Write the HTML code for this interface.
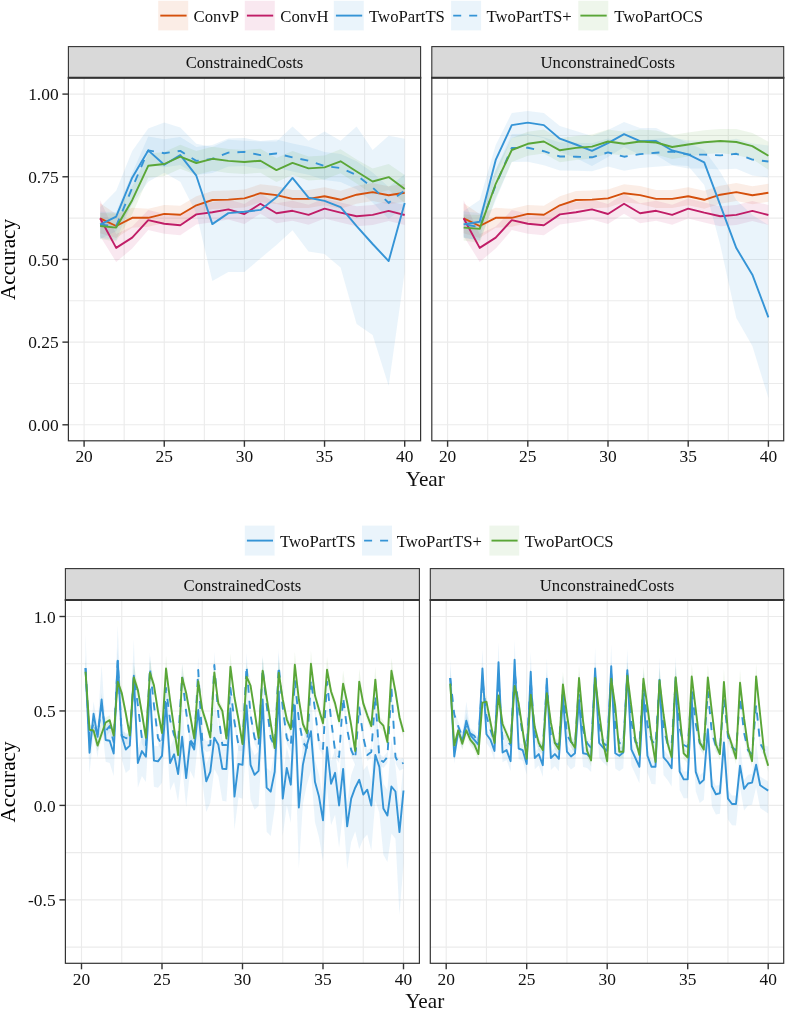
<!DOCTYPE html>
<html><head><meta charset="utf-8"><title>Accuracy by Year</title>
<style>html,body{margin:0;padding:0;background:#fff;} svg{display:block;font-family:'Liberation Serif','DejaVu Serif',serif}</style></head>
<body><svg width="785" height="1009" viewBox="0 0 785 1009">
<rect width="785" height="1009" fill="#FFFFFF"/>
<rect x="158.2" y="0.8" width="30" height="29.6" fill="#D5500C" fill-opacity="0.1"/>
<line x1="160.3" x2="186.6" y1="15.6" y2="15.6" stroke="#D5500C" stroke-width="1.9"/>
<text x="193.6" y="21.8" font-size="16.7" text-anchor="start" fill="#111" >ConvP</text>
<rect x="244.8" y="0.8" width="30" height="29.6" fill="#C01D67" fill-opacity="0.1"/>
<line x1="246.9" x2="273.2" y1="15.6" y2="15.6" stroke="#C01D67" stroke-width="1.9"/>
<text x="280.3" y="21.8" font-size="16.7" text-anchor="start" fill="#111" >ConvH</text>
<rect x="333.8" y="0.8" width="30" height="29.6" fill="#3594D6" fill-opacity="0.1"/>
<line x1="335.9" x2="362.2" y1="15.6" y2="15.6" stroke="#3594D6" stroke-width="1.9"/>
<text x="369.1" y="21.8" font-size="16.7" text-anchor="start" fill="#111" >TwoPartTS</text>
<rect x="451.1" y="0.8" width="30" height="29.6" fill="#3594D6" fill-opacity="0.1"/>
<line x1="453.2" x2="479.0" y1="15.6" y2="15.6" stroke="#3594D6" stroke-width="1.9" stroke-dasharray="8,8"/>
<text x="486.4" y="21.8" font-size="16.7" text-anchor="start" fill="#111" >TwoPartTS+</text>
<rect x="578.3" y="0.8" width="30" height="29.6" fill="#5AA637" fill-opacity="0.1"/>
<line x1="580.4" x2="606.7" y1="15.6" y2="15.6" stroke="#5AA637" stroke-width="1.9"/>
<text x="614.2" y="21.8" font-size="16.7" text-anchor="start" fill="#111" >TwoPartOCS</text>
<rect x="68.4" y="46.6" width="352.2" height="31.2" fill="#D9D9D9" stroke="#333333" stroke-width="1.1"/>
<text x="244.50" y="67.6" font-size="16.7" text-anchor="middle" fill="#111" >ConstrainedCosts</text>
<rect x="68.4" y="77.8" width="352.2" height="363.0" fill="#FFFFFF"/>
<line x1="68.4" x2="420.6" y1="383.46" y2="383.46" stroke="#EBEBEB" stroke-width="1.1"/>
<line x1="68.4" x2="420.6" y1="300.79" y2="300.79" stroke="#EBEBEB" stroke-width="1.1"/>
<line x1="68.4" x2="420.6" y1="218.11" y2="218.11" stroke="#EBEBEB" stroke-width="1.1"/>
<line x1="68.4" x2="420.6" y1="135.44" y2="135.44" stroke="#EBEBEB" stroke-width="1.1"/>
<line x1="124.17" x2="124.17" y1="77.8" y2="440.8" stroke="#EBEBEB" stroke-width="1.1"/>
<line x1="204.32" x2="204.32" y1="77.8" y2="440.8" stroke="#EBEBEB" stroke-width="1.1"/>
<line x1="284.48" x2="284.48" y1="77.8" y2="440.8" stroke="#EBEBEB" stroke-width="1.1"/>
<line x1="364.62" x2="364.62" y1="77.8" y2="440.8" stroke="#EBEBEB" stroke-width="1.1"/>
<line x1="68.4" x2="420.6" y1="424.80" y2="424.80" stroke="#EBEBEB" stroke-width="1.1"/>
<line x1="68.4" x2="420.6" y1="342.12" y2="342.12" stroke="#EBEBEB" stroke-width="1.1"/>
<line x1="68.4" x2="420.6" y1="259.45" y2="259.45" stroke="#EBEBEB" stroke-width="1.1"/>
<line x1="68.4" x2="420.6" y1="176.78" y2="176.78" stroke="#EBEBEB" stroke-width="1.1"/>
<line x1="68.4" x2="420.6" y1="94.10" y2="94.10" stroke="#EBEBEB" stroke-width="1.1"/>
<line x1="84.10" x2="84.10" y1="77.8" y2="440.8" stroke="#EBEBEB" stroke-width="1.1"/>
<line x1="164.25" x2="164.25" y1="77.8" y2="440.8" stroke="#EBEBEB" stroke-width="1.1"/>
<line x1="244.40" x2="244.40" y1="77.8" y2="440.8" stroke="#EBEBEB" stroke-width="1.1"/>
<line x1="324.55" x2="324.55" y1="77.8" y2="440.8" stroke="#EBEBEB" stroke-width="1.1"/>
<line x1="404.70" x2="404.70" y1="77.8" y2="440.8" stroke="#EBEBEB" stroke-width="1.1"/>
<polygon points="100.13,203.30 116.16,214.00 132.19,207.80 148.22,208.80 164.25,204.90 180.28,205.70 196.31,196.30 212.34,191.00 228.37,190.60 244.40,189.40 260.43,184.20 276.46,186.10 292.49,189.90 308.52,189.90 324.55,187.30 340.58,190.80 356.61,185.70 372.64,183.10 388.67,186.30 404.70,183.70 404.70,201.70 388.67,204.30 372.64,201.10 356.61,203.70 340.58,208.80 324.55,205.30 308.52,207.90 292.49,207.90 276.46,204.10 260.43,202.20 244.40,207.40 228.37,208.60 212.34,209.00 196.31,214.30 180.28,223.70 164.25,222.90 148.22,226.80 132.19,227.80 116.16,238.00 100.13,233.30" fill="#D5500C" fill-opacity="0.1" stroke="none"/>
<polygon points="100.13,200.30 116.16,233.90 132.19,226.60 148.22,210.10 164.25,213.80 180.28,215.20 196.31,204.40 212.34,202.20 228.37,199.40 244.40,204.00 260.43,193.70 276.46,203.30 292.49,200.80 308.52,204.80 324.55,198.60 340.58,202.60 356.61,206.20 372.64,204.90 388.67,200.90 404.70,205.00 404.70,225.00 388.67,220.90 372.64,224.90 356.61,226.20 340.58,222.60 324.55,218.60 308.52,224.80 292.49,220.80 276.46,223.30 260.43,213.70 244.40,224.00 228.37,219.40 212.34,222.20 196.31,224.40 180.28,235.20 164.25,233.80 148.22,230.10 132.19,248.60 116.16,261.90 100.13,236.30" fill="#C01D67" fill-opacity="0.1" stroke="none"/>
<polygon points="100.13,207.00 116.16,190.70 132.19,151.00 148.22,128.50 164.25,122.40 180.28,127.50 196.31,143.80 212.34,147.00 228.37,139.70 244.40,140.80 260.43,141.50 276.46,141.50 292.49,126.50 308.52,140.80 324.55,131.60 340.58,140.80 356.61,126.50 372.64,150.00 388.67,135.70 404.70,138.70 404.70,272.00 388.67,386.00 372.64,335.00 356.61,324.00 340.58,267.40 324.55,254.00 308.52,251.60 292.49,230.30 276.46,244.90 260.43,258.40 244.40,271.90 228.37,271.90 212.34,280.90 196.31,213.30 180.28,181.70 164.25,172.70 148.22,181.70 132.19,204.30 116.16,231.30 100.13,239.00" fill="#3594D6" fill-opacity="0.1" stroke="none"/>
<polygon points="100.13,211.70 116.16,212.00 132.19,173.00 148.22,136.40 164.25,139.20 180.28,136.90 196.31,146.90 212.34,145.00 228.37,138.60 244.40,137.90 260.43,141.10 276.46,139.50 292.49,143.40 308.52,146.70 324.55,152.10 340.58,154.00 356.61,161.20 372.64,172.50 388.67,186.90 404.70,174.30 404.70,206.30 388.67,218.90 372.64,202.50 356.61,189.20 340.58,182.00 324.55,180.10 308.52,174.70 292.49,171.40 276.46,167.50 260.43,169.10 244.40,165.90 228.37,166.60 212.34,173.00 196.31,174.90 180.28,164.90 164.25,167.20 148.22,164.40 132.19,203.00 116.16,240.00 100.13,237.70" fill="#3594D6" fill-opacity="0.1" stroke="none"/>
<polygon points="100.13,213.00 116.16,213.60 132.19,186.20 148.22,153.80 164.25,152.00 180.28,144.70 196.31,151.00 212.34,146.80 228.37,148.90 244.40,150.00 260.43,148.70 276.46,158.10 292.49,150.90 308.52,156.40 324.55,155.40 340.58,149.30 356.61,159.50 372.64,168.50 388.67,164.10 404.70,175.00 404.70,203.00 388.67,190.10 372.64,194.50 356.61,183.50 340.58,173.30 324.55,179.40 308.52,180.40 292.49,174.90 276.46,182.10 260.43,172.70 244.40,174.00 228.37,172.90 212.34,170.80 196.31,175.00 180.28,168.70 164.25,176.00 148.22,177.80 132.19,214.20 116.16,241.60 100.13,239.00" fill="#5AA637" fill-opacity="0.1" stroke="none"/>
<polyline points="100.13,218.30 116.16,226.00 132.19,217.80 148.22,217.80 164.25,213.90 180.28,214.70 196.31,205.30 212.34,200.00 228.37,199.60 244.40,198.40 260.43,193.20 276.46,195.10 292.49,198.90 308.52,198.90 324.55,196.30 340.58,199.80 356.61,194.70 372.64,192.10 388.67,195.30 404.70,192.70" fill="none" stroke="#D5500C" stroke-width="1.9" stroke-linejoin="round" stroke-linecap="butt"/>
<polyline points="100.13,218.30 116.16,247.90 132.19,237.60 148.22,220.10 164.25,223.80 180.28,225.20 196.31,214.40 212.34,212.20 228.37,209.40 244.40,214.00 260.43,203.70 276.46,213.30 292.49,210.80 308.52,214.80 324.55,208.60 340.58,212.60 356.61,216.20 372.64,214.90 388.67,210.90 404.70,215.00" fill="none" stroke="#C01D67" stroke-width="1.9" stroke-linejoin="round" stroke-linecap="butt"/>
<polyline points="100.13,224.70 116.16,216.60 132.19,177.70 148.22,150.40 164.25,164.80 180.28,155.10 196.31,175.70 212.34,224.10 228.37,213.10 244.40,211.80 260.43,209.90 276.46,197.30 292.49,177.90 308.52,197.70 324.55,200.90 340.58,207.10 356.61,226.10 372.64,244.00 388.67,261.10 404.70,203.10" fill="none" stroke="#3594D6" stroke-width="1.9" stroke-linejoin="round" stroke-linecap="butt"/>
<polyline points="100.13,224.70 116.16,226.00 132.19,188.00 148.22,150.40 164.25,153.20 180.28,150.90 196.31,160.90 212.34,159.00 228.37,152.60 244.40,151.90 260.43,155.10 276.46,153.50 292.49,157.40 308.52,160.70 324.55,166.10 340.58,168.00 356.61,175.20 372.64,187.50 388.67,202.90 404.70,190.30" fill="none" stroke="#3594D6" stroke-width="1.9" stroke-linejoin="round" stroke-linecap="butt" stroke-dasharray="8,8" stroke-dashoffset="0"/>
<polyline points="100.13,226.00 116.16,227.60 132.19,200.20 148.22,165.80 164.25,164.00 180.28,156.70 196.31,163.00 212.34,158.80 228.37,160.90 244.40,162.00 260.43,160.70 276.46,170.10 292.49,162.90 308.52,168.40 324.55,167.40 340.58,161.30 356.61,171.50 372.64,181.50 388.67,177.10 404.70,189.00" fill="none" stroke="#5AA637" stroke-width="1.9" stroke-linejoin="round" stroke-linecap="butt"/>
<rect x="68.4" y="77.8" width="352.2" height="363.0" fill="none" stroke="#333333" stroke-width="1.2"/>
<line x1="67.8" x2="421.2" y1="77.8" y2="77.8" stroke="#333333" stroke-width="2"/>
<line x1="84.10" x2="84.10" y1="440.8" y2="446.8" stroke="#333333" stroke-width="1.4"/>
<text x="84.10" y="462.4" font-size="17.4" text-anchor="middle" fill="#111" >20</text>
<line x1="164.25" x2="164.25" y1="440.8" y2="446.8" stroke="#333333" stroke-width="1.4"/>
<text x="164.25" y="462.4" font-size="17.4" text-anchor="middle" fill="#111" >25</text>
<line x1="244.40" x2="244.40" y1="440.8" y2="446.8" stroke="#333333" stroke-width="1.4"/>
<text x="244.40" y="462.4" font-size="17.4" text-anchor="middle" fill="#111" >30</text>
<line x1="324.55" x2="324.55" y1="440.8" y2="446.8" stroke="#333333" stroke-width="1.4"/>
<text x="324.55" y="462.4" font-size="17.4" text-anchor="middle" fill="#111" >35</text>
<line x1="404.70" x2="404.70" y1="440.8" y2="446.8" stroke="#333333" stroke-width="1.4"/>
<text x="404.70" y="462.4" font-size="17.4" text-anchor="middle" fill="#111" >40</text>
<rect x="431.8" y="46.6" width="351.9" height="31.2" fill="#D9D9D9" stroke="#333333" stroke-width="1.1"/>
<text x="607.75" y="67.6" font-size="16.7" text-anchor="middle" fill="#111" >UnconstrainedCosts</text>
<rect x="431.8" y="77.8" width="351.9" height="363.0" fill="#FFFFFF"/>
<line x1="431.8" x2="783.7" y1="383.46" y2="383.46" stroke="#EBEBEB" stroke-width="1.1"/>
<line x1="431.8" x2="783.7" y1="300.79" y2="300.79" stroke="#EBEBEB" stroke-width="1.1"/>
<line x1="431.8" x2="783.7" y1="218.11" y2="218.11" stroke="#EBEBEB" stroke-width="1.1"/>
<line x1="431.8" x2="783.7" y1="135.44" y2="135.44" stroke="#EBEBEB" stroke-width="1.1"/>
<line x1="487.70" x2="487.70" y1="77.8" y2="440.8" stroke="#EBEBEB" stroke-width="1.1"/>
<line x1="567.90" x2="567.90" y1="77.8" y2="440.8" stroke="#EBEBEB" stroke-width="1.1"/>
<line x1="648.10" x2="648.10" y1="77.8" y2="440.8" stroke="#EBEBEB" stroke-width="1.1"/>
<line x1="728.30" x2="728.30" y1="77.8" y2="440.8" stroke="#EBEBEB" stroke-width="1.1"/>
<line x1="431.8" x2="783.7" y1="424.80" y2="424.80" stroke="#EBEBEB" stroke-width="1.1"/>
<line x1="431.8" x2="783.7" y1="342.12" y2="342.12" stroke="#EBEBEB" stroke-width="1.1"/>
<line x1="431.8" x2="783.7" y1="259.45" y2="259.45" stroke="#EBEBEB" stroke-width="1.1"/>
<line x1="431.8" x2="783.7" y1="176.78" y2="176.78" stroke="#EBEBEB" stroke-width="1.1"/>
<line x1="431.8" x2="783.7" y1="94.10" y2="94.10" stroke="#EBEBEB" stroke-width="1.1"/>
<line x1="447.60" x2="447.60" y1="77.8" y2="440.8" stroke="#EBEBEB" stroke-width="1.1"/>
<line x1="527.80" x2="527.80" y1="77.8" y2="440.8" stroke="#EBEBEB" stroke-width="1.1"/>
<line x1="608.00" x2="608.00" y1="77.8" y2="440.8" stroke="#EBEBEB" stroke-width="1.1"/>
<line x1="688.20" x2="688.20" y1="77.8" y2="440.8" stroke="#EBEBEB" stroke-width="1.1"/>
<line x1="768.40" x2="768.40" y1="77.8" y2="440.8" stroke="#EBEBEB" stroke-width="1.1"/>
<polygon points="463.64,203.30 479.68,214.00 495.72,207.80 511.76,208.80 527.80,204.90 543.84,205.70 559.88,196.30 575.92,191.00 591.96,190.60 608.00,189.40 624.04,184.20 640.08,186.10 656.12,189.90 672.16,189.90 688.20,187.30 704.24,190.80 720.28,185.70 736.32,183.10 752.36,186.30 768.40,183.70 768.40,201.70 752.36,204.30 736.32,201.10 720.28,203.70 704.24,208.80 688.20,205.30 672.16,207.90 656.12,207.90 640.08,204.10 624.04,202.20 608.00,207.40 591.96,208.60 575.92,209.00 559.88,214.30 543.84,223.70 527.80,222.90 511.76,226.80 495.72,227.80 479.68,238.00 463.64,233.30" fill="#D5500C" fill-opacity="0.1" stroke="none"/>
<polygon points="463.64,200.30 479.68,233.90 495.72,226.60 511.76,210.10 527.80,213.80 543.84,215.20 559.88,204.40 575.92,202.20 591.96,199.40 608.00,204.00 624.04,193.70 640.08,203.30 656.12,200.80 672.16,204.80 688.20,198.60 704.24,202.60 720.28,206.20 736.32,204.90 752.36,200.90 768.40,205.00 768.40,225.00 752.36,220.90 736.32,224.90 720.28,226.20 704.24,222.60 688.20,218.60 672.16,224.80 656.12,220.80 640.08,223.30 624.04,213.70 608.00,224.00 591.96,219.40 575.92,222.20 559.88,224.40 543.84,235.20 527.80,233.80 511.76,230.10 495.72,248.60 479.68,261.90 463.64,236.30" fill="#C01D67" fill-opacity="0.1" stroke="none"/>
<polygon points="463.64,211.00 479.68,200.00 495.72,145.00 511.76,113.00 527.80,111.00 543.84,113.00 559.88,126.00 575.92,131.00 591.96,136.00 608.00,130.00 624.04,122.00 640.08,128.00 656.12,128.00 672.16,136.00 688.20,143.00 704.24,150.00 720.28,172.00 736.32,200.00 752.36,215.00 768.40,225.00 768.40,398.00 752.36,346.00 736.32,318.00 720.28,245.00 704.24,185.00 688.20,166.00 672.16,165.00 656.12,155.00 640.08,155.00 624.04,147.00 608.00,157.00 591.96,166.00 575.92,158.00 559.88,152.00 543.84,138.00 527.80,135.00 511.76,138.00 495.72,176.00 479.68,240.00 463.64,238.00" fill="#3594D6" fill-opacity="0.1" stroke="none"/>
<polygon points="463.64,211.40 479.68,213.00 495.72,170.00 511.76,134.00 527.80,133.80 543.84,137.20 559.88,142.50 575.92,142.70 591.96,143.30 608.00,138.40 624.04,142.70 640.08,140.10 656.12,138.80 672.16,137.50 688.20,140.60 704.24,140.60 720.28,141.40 736.32,138.80 752.36,143.60 768.40,145.50 768.40,177.50 752.36,175.60 736.32,168.80 720.28,169.40 704.24,168.60 688.20,168.60 672.16,165.50 656.12,166.80 640.08,168.10 624.04,170.70 608.00,166.40 591.96,171.30 575.92,170.70 559.88,170.50 543.84,165.20 527.80,161.80 511.76,162.00 495.72,200.00 479.68,241.00 463.64,237.40" fill="#3594D6" fill-opacity="0.1" stroke="none"/>
<polygon points="463.64,214.60 479.68,214.90 495.72,169.80 511.76,138.00 527.80,131.80 543.84,129.50 559.88,138.30 575.92,135.90 591.96,134.60 608.00,129.50 624.04,131.80 640.08,129.50 656.12,130.50 672.16,135.00 688.20,132.50 704.24,130.30 720.28,129.00 736.32,129.00 752.36,133.10 768.40,141.70 768.40,169.70 752.36,159.10 736.32,155.00 720.28,153.00 704.24,154.30 688.20,156.50 672.16,159.00 656.12,154.50 640.08,153.50 624.04,155.80 608.00,153.50 591.96,158.60 575.92,159.90 559.88,162.30 543.84,153.50 527.80,155.80 511.76,162.00 495.72,197.80 479.68,242.90 463.64,240.60" fill="#5AA637" fill-opacity="0.1" stroke="none"/>
<polyline points="463.64,218.30 479.68,226.00 495.72,217.80 511.76,217.80 527.80,213.90 543.84,214.70 559.88,205.30 575.92,200.00 591.96,199.60 608.00,198.40 624.04,193.20 640.08,195.10 656.12,198.90 672.16,198.90 688.20,196.30 704.24,199.80 720.28,194.70 736.32,192.10 752.36,195.30 768.40,192.70" fill="none" stroke="#D5500C" stroke-width="1.9" stroke-linejoin="round" stroke-linecap="butt"/>
<polyline points="463.64,218.30 479.68,247.90 495.72,237.60 511.76,220.10 527.80,223.80 543.84,225.20 559.88,214.40 575.92,212.20 591.96,209.40 608.00,214.00 624.04,203.70 640.08,213.30 656.12,210.80 672.16,214.80 688.20,208.60 704.24,212.60 720.28,216.20 736.32,214.90 752.36,210.90 768.40,215.00" fill="none" stroke="#C01D67" stroke-width="1.9" stroke-linejoin="round" stroke-linecap="butt"/>
<polyline points="463.64,224.40 479.68,221.80 495.72,159.90 511.76,125.10 527.80,122.60 543.84,125.10 559.88,138.70 575.92,144.50 591.96,150.90 608.00,143.20 624.04,134.10 640.08,141.10 656.12,141.00 672.16,150.50 688.20,154.30 704.24,162.30 720.28,205.20 736.32,248.10 752.36,274.70 768.40,317.30" fill="none" stroke="#3594D6" stroke-width="1.9" stroke-linejoin="round" stroke-linecap="butt"/>
<polyline points="463.64,224.40 479.68,227.00 495.72,185.00 511.76,148.00 527.80,147.80 543.84,151.20 559.88,156.50 575.92,156.70 591.96,157.30 608.00,152.40 624.04,156.70 640.08,154.10 656.12,152.80 672.16,151.50 688.20,154.60 704.24,154.60 720.28,155.40 736.32,153.80 752.36,159.60 768.40,161.50" fill="none" stroke="#3594D6" stroke-width="1.9" stroke-linejoin="round" stroke-linecap="butt" stroke-dasharray="8,8" stroke-dashoffset="12"/>
<polyline points="463.64,227.60 479.68,228.90 495.72,183.80 511.76,150.00 527.80,143.80 543.84,141.50 559.88,150.30 575.92,147.90 591.96,146.60 608.00,141.50 624.04,143.80 640.08,141.50 656.12,142.50 672.16,147.00 688.20,144.50 704.24,142.30 720.28,141.00 736.32,142.00 752.36,146.10 768.40,155.70" fill="none" stroke="#5AA637" stroke-width="1.9" stroke-linejoin="round" stroke-linecap="butt"/>
<rect x="431.8" y="77.8" width="351.9" height="363.0" fill="none" stroke="#333333" stroke-width="1.2"/>
<line x1="431.2" x2="784.3" y1="77.8" y2="77.8" stroke="#333333" stroke-width="2"/>
<line x1="447.60" x2="447.60" y1="440.8" y2="446.8" stroke="#333333" stroke-width="1.4"/>
<text x="447.60" y="462.4" font-size="17.4" text-anchor="middle" fill="#111" >20</text>
<line x1="527.80" x2="527.80" y1="440.8" y2="446.8" stroke="#333333" stroke-width="1.4"/>
<text x="527.80" y="462.4" font-size="17.4" text-anchor="middle" fill="#111" >25</text>
<line x1="608.00" x2="608.00" y1="440.8" y2="446.8" stroke="#333333" stroke-width="1.4"/>
<text x="608.00" y="462.4" font-size="17.4" text-anchor="middle" fill="#111" >30</text>
<line x1="688.20" x2="688.20" y1="440.8" y2="446.8" stroke="#333333" stroke-width="1.4"/>
<text x="688.20" y="462.4" font-size="17.4" text-anchor="middle" fill="#111" >35</text>
<line x1="768.40" x2="768.40" y1="440.8" y2="446.8" stroke="#333333" stroke-width="1.4"/>
<text x="768.40" y="462.4" font-size="17.4" text-anchor="middle" fill="#111" >40</text>
<line x1="62.4" x2="68.4" y1="424.80" y2="424.80" stroke="#333333" stroke-width="1.4"/>
<text x="58.6" y="431.00" font-size="17.4" text-anchor="end" fill="#111" >0.00</text>
<line x1="62.4" x2="68.4" y1="342.12" y2="342.12" stroke="#333333" stroke-width="1.4"/>
<text x="58.6" y="348.32" font-size="17.4" text-anchor="end" fill="#111" >0.25</text>
<line x1="62.4" x2="68.4" y1="259.45" y2="259.45" stroke="#333333" stroke-width="1.4"/>
<text x="58.6" y="265.65" font-size="17.4" text-anchor="end" fill="#111" >0.50</text>
<line x1="62.4" x2="68.4" y1="176.78" y2="176.78" stroke="#333333" stroke-width="1.4"/>
<text x="58.6" y="182.98" font-size="17.4" text-anchor="end" fill="#111" >0.75</text>
<line x1="62.4" x2="68.4" y1="94.10" y2="94.10" stroke="#333333" stroke-width="1.4"/>
<text x="58.6" y="100.30" font-size="17.4" text-anchor="end" fill="#111" >1.00</text>
<text x="425.3" y="486.3" font-size="21.2" text-anchor="middle" fill="#111" >Year</text>
<text x="0" y="0" font-size="21.2" text-anchor="middle" fill="#000" transform="translate(15.0,259.5) rotate(-90)">Accuracy</text>
<rect x="244.8" y="525.6" width="29.8" height="30" fill="#3594D6" fill-opacity="0.1"/>
<line x1="246.9" x2="273.0" y1="540.6" y2="540.6" stroke="#3594D6" stroke-width="1.9"/>
<text x="280.0" y="547.1" font-size="16.7" text-anchor="start" fill="#111" >TwoPartTS</text>
<rect x="362.0" y="525.6" width="30" height="30" fill="#3594D6" fill-opacity="0.1"/>
<line x1="364.1" x2="389.9" y1="540.6" y2="540.6" stroke="#3594D6" stroke-width="1.9" stroke-dasharray="8,8"/>
<text x="396.7" y="547.1" font-size="16.7" text-anchor="start" fill="#111" >TwoPartTS+</text>
<rect x="489.4" y="525.6" width="29.8" height="30" fill="#5AA637" fill-opacity="0.1"/>
<line x1="491.5" x2="517.6" y1="540.6" y2="540.6" stroke="#5AA637" stroke-width="1.9"/>
<text x="524.8" y="547.1" font-size="16.7" text-anchor="start" fill="#111" >TwoPartOCS</text>
<rect x="65.4" y="568.6" width="354.0" height="31.4" fill="#D9D9D9" stroke="#333333" stroke-width="1.1"/>
<text x="242.40" y="590.5" font-size="16.7" text-anchor="middle" fill="#111" >ConstrainedCosts</text>
<rect x="65.4" y="600.0" width="354.0" height="363.3" fill="#FFFFFF"/>
<line x1="65.4" x2="419.4" y1="947.08" y2="947.08" stroke="#EBEBEB" stroke-width="1.1"/>
<line x1="65.4" x2="419.4" y1="852.62" y2="852.62" stroke="#EBEBEB" stroke-width="1.1"/>
<line x1="65.4" x2="419.4" y1="758.17" y2="758.17" stroke="#EBEBEB" stroke-width="1.1"/>
<line x1="65.4" x2="419.4" y1="663.72" y2="663.72" stroke="#EBEBEB" stroke-width="1.1"/>
<line x1="121.75" x2="121.75" y1="600.0" y2="963.3" stroke="#EBEBEB" stroke-width="1.1"/>
<line x1="202.25" x2="202.25" y1="600.0" y2="963.3" stroke="#EBEBEB" stroke-width="1.1"/>
<line x1="282.75" x2="282.75" y1="600.0" y2="963.3" stroke="#EBEBEB" stroke-width="1.1"/>
<line x1="363.25" x2="363.25" y1="600.0" y2="963.3" stroke="#EBEBEB" stroke-width="1.1"/>
<line x1="65.4" x2="419.4" y1="899.85" y2="899.85" stroke="#EBEBEB" stroke-width="1.1"/>
<line x1="65.4" x2="419.4" y1="805.40" y2="805.40" stroke="#EBEBEB" stroke-width="1.1"/>
<line x1="65.4" x2="419.4" y1="710.95" y2="710.95" stroke="#EBEBEB" stroke-width="1.1"/>
<line x1="65.4" x2="419.4" y1="616.50" y2="616.50" stroke="#EBEBEB" stroke-width="1.1"/>
<line x1="81.50" x2="81.50" y1="600.0" y2="963.3" stroke="#EBEBEB" stroke-width="1.1"/>
<line x1="162.00" x2="162.00" y1="600.0" y2="963.3" stroke="#EBEBEB" stroke-width="1.1"/>
<line x1="242.50" x2="242.50" y1="600.0" y2="963.3" stroke="#EBEBEB" stroke-width="1.1"/>
<line x1="323.00" x2="323.00" y1="600.0" y2="963.3" stroke="#EBEBEB" stroke-width="1.1"/>
<line x1="403.50" x2="403.50" y1="600.0" y2="963.3" stroke="#EBEBEB" stroke-width="1.1"/>
<polygon points="85.53,634.30 89.55,740.52 93.58,701.45 97.60,724.27 101.62,664.79 105.65,727.11 109.68,727.74 113.70,740.26 117.72,625.18 121.75,722.41 125.78,735.73 129.80,731.65 133.82,639.57 137.85,748.70 141.88,736.62 145.90,742.04 149.93,652.36 153.95,745.59 157.98,746.21 162.00,740.53 166.03,665.46 170.05,747.28 174.07,738.40 178.10,758.02 182.12,698.55 186.15,761.67 190.18,724.99 194.20,732.72 198.23,671.04 202.25,733.96 206.28,763.98 210.30,754.21 214.33,697.93 218.35,726.95 222.38,750.77 226.40,750.80 230.43,668.02 234.45,778.04 238.48,745.17 242.50,745.99 246.53,664.31 250.55,745.63 254.58,755.36 258.60,751.18 262.62,657.70 266.65,767.73 270.68,771.55 274.70,751.47 278.73,648.99 282.75,777.92 286.77,747.04 290.80,763.66 294.83,662.18 298.85,786.11 302.88,743.33 306.90,723.35 310.93,687.28 314.95,759.70 318.98,774.32 323.00,797.94 327.03,702.47 331.05,760.89 335.08,749.81 339.10,782.34 343.12,723.56 347.15,802.88 351.18,774.90 355.20,763.83 359.23,733.75 363.25,770.37 367.28,765.29 371.30,780.92 375.33,708.24 379.35,741.96 383.38,783.39 387.40,790.21 391.43,739.03 395.45,765.85 399.48,806.28 403.50,764.50 403.50,863.50 399.48,914.75 395.45,838.79 391.43,833.44 387.40,862.08 383.38,854.73 379.35,812.77 375.33,800.52 371.30,850.66 367.28,834.51 363.25,839.06 359.23,848.90 355.20,831.45 351.18,841.99 347.15,869.44 343.12,811.58 339.10,847.83 335.08,814.77 331.05,825.32 327.03,788.37 323.00,861.31 318.98,837.16 314.95,822.00 310.93,771.05 306.90,784.59 302.88,804.04 298.85,868.28 294.83,743.83 290.80,822.78 286.77,805.62 282.75,835.97 278.73,728.51 274.70,808.46 270.68,836.00 266.65,831.65 262.62,735.09 258.60,806.04 254.58,809.69 250.55,799.43 246.53,739.58 242.50,798.72 238.48,797.37 234.45,829.71 230.43,741.16 226.40,801.41 222.38,800.85 218.35,776.50 214.33,768.94 210.30,802.69 206.28,811.93 202.25,781.38 198.23,739.92 194.20,779.07 190.18,770.82 186.15,806.96 182.12,765.31 178.10,802.25 174.07,782.10 170.05,790.44 166.03,730.09 162.00,782.63 157.98,787.78 153.95,786.63 149.93,714.87 145.90,782.02 141.88,776.06 137.85,787.61 133.82,699.95 129.80,769.50 125.78,773.04 121.75,759.19 117.72,683.44 113.70,775.98 109.68,762.93 105.65,761.77 101.62,720.92 97.60,757.86 93.58,734.51 89.55,773.05 85.53,688.30" fill="#3594D6" fill-opacity="0.1" stroke="none"/>
<polygon points="85.53,655.00 89.55,735.00 93.58,717.00 97.60,730.00 101.62,693.00 105.65,726.00 109.68,721.00 113.70,737.00 117.72,648.00 121.75,731.00 125.78,733.00 129.80,734.00 133.82,663.00 137.85,700.00 141.88,733.00 145.90,740.00 149.93,655.00 153.95,700.00 157.98,733.00 162.00,740.00 166.03,675.00 170.05,715.00 174.07,730.00 178.10,737.00 182.12,663.00 186.15,707.00 190.18,735.00 194.20,740.00 198.23,657.00 202.25,736.00 206.28,741.00 210.30,740.00 214.33,652.00 218.35,710.00 222.38,740.00 226.40,740.00 230.43,675.00 234.45,717.00 238.48,740.00 242.50,740.00 246.53,653.00 250.55,710.00 254.58,733.00 258.60,741.00 262.62,655.00 266.65,700.00 270.68,733.00 274.70,741.00 278.73,653.00 282.75,703.00 286.77,733.00 290.80,741.00 294.83,667.00 298.85,715.00 302.88,737.00 306.90,743.00 310.93,666.70 314.95,704.40 318.98,738.10 323.00,744.00 327.03,668.60 331.05,714.30 335.08,746.00 339.10,752.00 343.12,684.50 347.15,724.20 351.18,745.00 355.20,754.00 359.23,694.40 363.25,732.00 367.28,750.00 371.30,747.00 375.33,682.50 379.35,754.00 383.38,757.00 387.40,752.00 391.43,674.50 395.45,752.00 399.48,759.80 403.50,757.80 403.50,768.80 399.48,770.80 395.45,763.00 391.43,693.50 387.40,763.00 383.38,768.00 379.35,765.00 375.33,701.50 371.30,758.00 367.28,761.00 363.25,743.00 359.23,713.40 355.20,765.00 351.18,756.00 347.15,735.20 343.12,703.50 339.10,763.00 335.08,757.00 331.05,725.30 327.03,687.60 323.00,755.00 318.98,749.10 314.95,715.40 310.93,685.70 306.90,754.00 302.88,748.00 298.85,726.00 294.83,686.00 290.80,752.00 286.77,744.00 282.75,714.00 278.73,672.00 274.70,752.00 270.68,744.00 266.65,711.00 262.62,674.00 258.60,752.00 254.58,744.00 250.55,721.00 246.53,672.00 242.50,751.00 238.48,751.00 234.45,728.00 230.43,694.00 226.40,751.00 222.38,751.00 218.35,721.00 214.33,671.00 210.30,751.00 206.28,752.00 202.25,747.00 198.23,676.00 194.20,751.00 190.18,746.00 186.15,718.00 182.12,682.00 178.10,748.00 174.07,741.00 170.05,726.00 166.03,694.00 162.00,751.00 157.98,744.00 153.95,711.00 149.93,674.00 145.90,751.00 141.88,744.00 137.85,711.00 133.82,682.00 129.80,745.00 125.78,744.00 121.75,742.00 117.72,667.00 113.70,748.00 109.68,732.00 105.65,737.00 101.62,712.00 97.60,741.00 93.58,728.00 89.55,746.00 85.53,674.00" fill="#3594D6" fill-opacity="0.1" stroke="none"/>
<polygon points="85.53,658.70 89.55,724.70 93.58,725.50 97.60,740.60 101.62,720.70 105.65,717.50 109.68,715.20 113.70,730.50 117.72,668.60 121.75,688.00 125.78,708.30 129.80,730.50 133.82,664.40 137.85,685.00 141.88,708.00 145.90,732.80 149.93,659.60 153.95,680.40 157.98,706.30 162.00,728.00 166.03,655.50 170.05,695.00 174.07,723.00 178.10,750.20 182.12,664.60 186.15,688.00 190.18,710.30 194.20,733.40 198.23,668.30 202.25,704.80 206.28,717.50 210.30,732.60 214.33,659.50 218.35,698.50 222.38,706.00 226.40,733.60 230.43,653.80 234.45,692.50 238.48,714.30 242.50,739.10 246.53,663.70 250.55,680.60 254.58,706.40 258.60,733.10 262.62,657.70 266.65,692.50 270.68,718.30 274.70,743.00 278.73,659.70 282.75,694.50 286.77,714.30 290.80,724.20 294.83,651.80 298.85,694.50 302.88,719.00 306.90,728.20 310.93,650.80 314.95,690.50 318.98,704.40 323.00,718.30 327.03,656.70 331.05,686.50 335.08,698.40 339.10,716.30 343.12,670.60 347.15,697.50 351.18,720.20 355.20,746.00 359.23,668.60 363.25,698.40 367.28,710.30 371.30,721.20 375.33,666.70 379.35,716.30 383.38,720.60 387.40,737.10 391.43,657.70 395.45,686.50 399.48,712.20 403.50,727.10 403.50,738.10 399.48,723.20 395.45,697.50 391.43,676.70 387.40,748.10 383.38,731.60 379.35,727.30 375.33,685.70 371.30,732.20 367.28,721.30 363.25,709.40 359.23,687.60 355.20,757.00 351.18,731.20 347.15,708.50 343.12,689.60 339.10,727.30 335.08,709.40 331.05,697.50 327.03,675.70 323.00,729.30 318.98,715.40 314.95,701.50 310.93,669.80 306.90,739.20 302.88,730.00 298.85,705.50 294.83,670.80 290.80,735.20 286.77,725.30 282.75,705.50 278.73,678.70 274.70,754.00 270.68,729.30 266.65,703.50 262.62,676.70 258.60,744.10 254.58,717.40 250.55,691.60 246.53,682.70 242.50,750.10 238.48,725.30 234.45,703.50 230.43,672.80 226.40,744.60 222.38,717.00 218.35,709.50 214.33,678.50 210.30,743.60 206.28,728.50 202.25,715.80 198.23,687.30 194.20,744.40 190.18,721.30 186.15,699.00 182.12,683.60 178.10,761.20 174.07,734.00 170.05,706.00 166.03,674.50 162.00,739.00 157.98,717.30 153.95,691.40 149.93,678.60 145.90,743.80 141.88,719.00 137.85,696.00 133.82,683.40 129.80,741.50 125.78,719.30 121.75,699.00 117.72,687.60 113.70,741.50 109.68,726.20 105.65,728.50 101.62,739.70 97.60,751.60 93.58,736.50 89.55,735.70 85.53,677.70" fill="#5AA637" fill-opacity="0.1" stroke="none"/>
<polyline points="85.53,668.30 89.55,752.70 93.58,713.80 97.60,736.80 101.62,699.50 105.65,740.00 109.68,740.80 113.70,753.50 117.72,660.60 121.75,736.00 125.78,749.50 129.80,745.60 133.82,675.70 137.85,763.00 141.88,751.10 145.90,756.70 149.93,689.20 153.95,760.60 157.98,761.40 162.00,755.90 166.03,703.00 170.05,763.00 174.07,754.30 178.10,774.10 182.12,736.80 186.15,778.10 190.18,741.60 194.20,749.50 198.23,710.00 202.25,751.10 206.28,781.30 210.30,771.70 214.33,737.60 218.35,744.80 222.38,768.80 226.40,769.00 230.43,708.40 234.45,796.60 238.48,763.90 242.50,764.90 246.53,705.40 250.55,764.90 254.58,774.80 258.60,770.80 262.62,699.50 266.65,787.70 270.68,791.70 274.70,771.80 278.73,691.50 282.75,798.60 286.77,767.90 290.80,784.70 294.83,705.40 298.85,807.50 302.88,764.90 306.90,745.10 310.93,731.20 314.95,781.80 318.98,796.60 323.00,820.40 327.03,747.10 331.05,783.70 335.08,772.80 339.10,805.50 343.12,768.90 347.15,826.40 351.18,798.60 355.20,787.70 359.23,779.80 363.25,794.60 367.28,789.70 371.30,805.50 375.33,755.00 379.35,766.90 383.38,808.50 387.40,815.50 391.43,786.50 395.45,791.50 399.48,832.10 403.50,790.50" fill="none" stroke="#3594D6" stroke-width="1.9" stroke-linejoin="round" stroke-linecap="butt"/>
<polyline points="85.53,668.00 89.55,740.00 93.58,722.00 97.60,735.00 101.62,706.00 105.65,731.00 109.68,726.00 113.70,742.00 117.72,661.00 121.75,736.00 125.78,738.00 129.80,739.00 133.82,676.00 137.85,705.00 141.88,738.00 145.90,745.00 149.93,668.00 153.95,705.00 157.98,738.00 162.00,745.00 166.03,688.00 170.05,720.00 174.07,735.00 178.10,742.00 182.12,676.00 186.15,712.00 190.18,740.00 194.20,745.00 198.23,670.00 202.25,741.00 206.28,746.00 210.30,745.00 214.33,665.00 218.35,715.00 222.38,745.00 226.40,745.00 230.43,688.00 234.45,722.00 238.48,745.00 242.50,745.00 246.53,666.00 250.55,715.00 254.58,738.00 258.60,746.00 262.62,668.00 266.65,705.00 270.68,738.00 274.70,746.00 278.73,666.00 282.75,708.00 286.77,738.00 290.80,746.00 294.83,680.00 298.85,720.00 302.88,742.00 306.90,748.00 310.93,679.70 314.95,709.40 318.98,743.10 323.00,749.00 327.03,681.60 331.05,719.30 335.08,751.00 339.10,757.00 343.12,697.50 347.15,729.20 351.18,750.00 355.20,759.00 359.23,707.40 363.25,737.00 367.28,755.00 371.30,752.00 375.33,695.50 379.35,759.00 383.38,762.00 387.40,757.00 391.43,687.50 395.45,757.00 399.48,764.80 403.50,762.80" fill="none" stroke="#3594D6" stroke-width="1.9" stroke-linejoin="round" stroke-linecap="butt" stroke-dasharray="8,8" stroke-dashoffset="0"/>
<polyline points="85.53,671.70 89.55,729.70 93.58,730.50 97.60,745.60 101.62,733.70 105.65,722.50 109.68,720.20 113.70,735.50 117.72,681.60 121.75,693.00 125.78,713.30 129.80,735.50 133.82,677.40 137.85,690.00 141.88,713.00 145.90,737.80 149.93,672.60 153.95,685.40 157.98,711.30 162.00,733.00 166.03,668.50 170.05,700.00 174.07,728.00 178.10,755.20 182.12,677.60 186.15,693.00 190.18,715.30 194.20,738.40 198.23,681.30 202.25,709.80 206.28,722.50 210.30,737.60 214.33,672.50 218.35,703.50 222.38,711.00 226.40,738.60 230.43,666.80 234.45,697.50 238.48,719.30 242.50,744.10 246.53,676.70 250.55,685.60 254.58,711.40 258.60,738.10 262.62,670.70 266.65,697.50 270.68,723.30 274.70,748.00 278.73,672.70 282.75,699.50 286.77,719.30 290.80,729.20 294.83,664.80 298.85,699.50 302.88,724.00 306.90,733.20 310.93,663.80 314.95,695.50 318.98,709.40 323.00,723.30 327.03,669.70 331.05,691.50 335.08,703.40 339.10,721.30 343.12,683.60 347.15,702.50 351.18,725.20 355.20,751.00 359.23,681.60 363.25,703.40 367.28,715.30 371.30,726.20 375.33,679.70 379.35,721.30 383.38,725.60 387.40,742.10 391.43,670.70 395.45,691.50 399.48,717.20 403.50,732.10" fill="none" stroke="#5AA637" stroke-width="1.9" stroke-linejoin="round" stroke-linecap="butt"/>
<rect x="65.4" y="600.0" width="354.0" height="363.3" fill="none" stroke="#333333" stroke-width="1.2"/>
<line x1="64.8" x2="420.0" y1="600.0" y2="600.0" stroke="#333333" stroke-width="2"/>
<line x1="81.50" x2="81.50" y1="963.3" y2="969.3" stroke="#333333" stroke-width="1.4"/>
<text x="81.50" y="984.6" font-size="17.4" text-anchor="middle" fill="#111" >20</text>
<line x1="162.00" x2="162.00" y1="963.3" y2="969.3" stroke="#333333" stroke-width="1.4"/>
<text x="162.00" y="984.6" font-size="17.4" text-anchor="middle" fill="#111" >25</text>
<line x1="242.50" x2="242.50" y1="963.3" y2="969.3" stroke="#333333" stroke-width="1.4"/>
<text x="242.50" y="984.6" font-size="17.4" text-anchor="middle" fill="#111" >30</text>
<line x1="323.00" x2="323.00" y1="963.3" y2="969.3" stroke="#333333" stroke-width="1.4"/>
<text x="323.00" y="984.6" font-size="17.4" text-anchor="middle" fill="#111" >35</text>
<line x1="403.50" x2="403.50" y1="963.3" y2="969.3" stroke="#333333" stroke-width="1.4"/>
<text x="403.50" y="984.6" font-size="17.4" text-anchor="middle" fill="#111" >40</text>
<rect x="430.3" y="568.6" width="353.4" height="31.4" fill="#D9D9D9" stroke="#333333" stroke-width="1.1"/>
<text x="607.00" y="590.5" font-size="16.7" text-anchor="middle" fill="#111" >UnconstrainedCosts</text>
<rect x="430.3" y="600.0" width="353.4" height="363.3" fill="#FFFFFF"/>
<line x1="430.3" x2="783.7" y1="947.08" y2="947.08" stroke="#EBEBEB" stroke-width="1.1"/>
<line x1="430.3" x2="783.7" y1="852.62" y2="852.62" stroke="#EBEBEB" stroke-width="1.1"/>
<line x1="430.3" x2="783.7" y1="758.17" y2="758.17" stroke="#EBEBEB" stroke-width="1.1"/>
<line x1="430.3" x2="783.7" y1="663.72" y2="663.72" stroke="#EBEBEB" stroke-width="1.1"/>
<line x1="486.45" x2="486.45" y1="600.0" y2="963.3" stroke="#EBEBEB" stroke-width="1.1"/>
<line x1="566.95" x2="566.95" y1="600.0" y2="963.3" stroke="#EBEBEB" stroke-width="1.1"/>
<line x1="647.45" x2="647.45" y1="600.0" y2="963.3" stroke="#EBEBEB" stroke-width="1.1"/>
<line x1="727.95" x2="727.95" y1="600.0" y2="963.3" stroke="#EBEBEB" stroke-width="1.1"/>
<line x1="430.3" x2="783.7" y1="899.85" y2="899.85" stroke="#EBEBEB" stroke-width="1.1"/>
<line x1="430.3" x2="783.7" y1="805.40" y2="805.40" stroke="#EBEBEB" stroke-width="1.1"/>
<line x1="430.3" x2="783.7" y1="710.95" y2="710.95" stroke="#EBEBEB" stroke-width="1.1"/>
<line x1="430.3" x2="783.7" y1="616.50" y2="616.50" stroke="#EBEBEB" stroke-width="1.1"/>
<line x1="446.20" x2="446.20" y1="600.0" y2="963.3" stroke="#EBEBEB" stroke-width="1.1"/>
<line x1="526.70" x2="526.70" y1="600.0" y2="963.3" stroke="#EBEBEB" stroke-width="1.1"/>
<line x1="607.20" x2="607.20" y1="600.0" y2="963.3" stroke="#EBEBEB" stroke-width="1.1"/>
<line x1="687.70" x2="687.70" y1="600.0" y2="963.3" stroke="#EBEBEB" stroke-width="1.1"/>
<line x1="768.20" x2="768.20" y1="600.0" y2="963.3" stroke="#EBEBEB" stroke-width="1.1"/>
<polygon points="450.22,659.00 454.25,751.45 458.27,726.00 462.30,736.25 466.32,701.60 470.35,729.85 474.38,734.50 478.40,739.25 482.43,649.09 486.45,728.84 490.48,734.29 494.50,745.34 498.52,642.59 502.55,746.84 506.57,744.39 510.60,755.44 514.62,639.99 518.65,742.64 522.67,744.19 526.70,758.04 530.73,651.69 534.75,751.94 538.77,747.99 542.80,759.04 546.83,658.58 550.85,751.73 554.88,747.78 558.90,752.43 562.92,676.58 566.95,745.23 570.98,749.98 575.00,746.73 579.02,679.38 583.05,746.63 587.08,747.38 591.10,751.23 595.12,647.68 599.15,736.13 603.17,740.78 607.20,744.03 611.23,645.07 615.25,746.22 619.27,748.57 623.30,745.32 627.33,648.87 631.35,742.02 635.38,750.67 639.40,759.42 643.42,672.47 647.45,748.22 651.48,759.27 655.50,759.22 659.52,657.97 663.55,749.62 667.58,754.27 671.60,760.52 675.62,656.16 679.65,763.61 683.67,771.46 687.70,771.21 691.73,676.76 695.75,763.81 699.77,775.36 703.80,771.71 707.83,706.86 711.85,777.91 715.88,785.86 719.90,784.91 723.92,720.06 727.95,790.11 731.98,795.46 736.00,795.41 740.03,743.05 744.05,780.10 748.08,774.75 752.10,773.80 756.12,741.95 760.15,776.40 764.17,779.05 768.20,781.60 768.20,813.60 764.17,810.80 760.15,807.89 756.12,787.19 752.10,804.79 748.08,805.49 744.05,810.58 740.03,787.28 736.00,825.38 731.98,825.18 727.95,819.57 723.92,763.27 719.90,813.87 715.88,814.57 711.85,806.36 707.83,749.06 703.80,799.66 699.77,803.06 695.75,791.25 691.73,717.95 687.70,798.15 683.67,798.15 679.65,790.04 675.62,696.34 671.60,786.44 667.58,779.94 663.55,775.03 659.52,697.13 655.50,784.13 651.48,783.93 647.45,772.62 643.42,710.62 639.40,783.32 635.38,774.32 631.35,765.41 627.33,686.01 623.30,768.21 619.27,771.21 615.25,768.60 611.23,681.20 607.20,765.90 603.17,762.40 599.15,757.49 595.12,682.79 591.10,772.09 587.08,767.99 583.05,766.98 579.02,713.48 575.00,766.58 570.98,769.58 566.95,764.57 562.92,709.67 558.90,771.27 554.88,766.37 550.85,770.06 546.83,690.66 542.80,776.86 538.77,765.56 534.75,769.25 530.73,682.75 526.70,774.85 522.67,760.75 518.65,758.94 514.62,670.04 510.60,771.24 506.57,759.94 502.55,762.13 498.52,671.63 494.50,760.13 490.48,748.83 486.45,743.12 482.43,677.12 478.40,753.02 474.38,748.02 470.35,743.11 466.32,728.61 462.30,749.01 458.27,738.51 454.25,763.70 450.22,685.00" fill="#3594D6" fill-opacity="0.1" stroke="none"/>
<polygon points="450.22,665.00 454.25,709.50 458.27,721.40 462.30,731.70 466.32,712.60 470.35,728.50 474.38,730.90 478.40,738.00 482.43,666.60 486.45,711.00 490.48,725.00 494.50,737.00 498.52,666.60 502.55,734.80 506.57,734.80 510.60,740.00 514.62,658.70 518.65,703.10 522.67,730.00 526.70,743.00 530.73,667.00 534.75,730.00 538.77,740.00 542.80,743.00 546.83,671.00 550.85,730.00 554.88,738.00 558.90,740.00 562.92,675.00 566.95,730.00 570.98,737.00 575.00,740.00 579.02,672.00 583.05,725.00 587.08,738.00 591.10,743.00 595.12,663.00 599.15,720.00 603.17,738.00 607.20,741.00 611.23,661.00 615.25,720.00 619.27,738.00 623.30,739.00 627.33,661.00 631.35,717.00 635.38,737.00 639.40,740.00 643.42,669.00 647.45,720.00 651.48,735.00 655.50,740.00 659.52,669.00 663.55,723.00 667.58,739.00 671.60,741.00 675.62,667.00 679.65,723.00 683.67,740.00 687.70,742.00 691.73,676.90 695.75,718.80 699.77,738.40 703.80,742.00 707.83,678.70 711.85,727.70 715.88,741.10 719.90,743.70 723.92,685.80 727.95,731.30 731.98,742.00 736.00,745.50 740.03,684.00 744.05,727.70 748.08,745.50 752.10,749.10 756.12,692.10 760.15,738.40 764.17,745.50 768.20,746.40 768.20,757.40 764.17,756.50 760.15,749.40 756.12,711.10 752.10,760.10 748.08,756.50 744.05,738.70 740.03,703.00 736.00,756.50 731.98,753.00 727.95,742.30 723.92,704.80 719.90,754.70 715.88,752.10 711.85,738.70 707.83,697.70 703.80,753.00 699.77,749.40 695.75,729.80 691.73,695.90 687.70,753.00 683.67,751.00 679.65,734.00 675.62,686.00 671.60,752.00 667.58,750.00 663.55,734.00 659.52,688.00 655.50,751.00 651.48,746.00 647.45,731.00 643.42,688.00 639.40,751.00 635.38,748.00 631.35,728.00 627.33,680.00 623.30,750.00 619.27,749.00 615.25,731.00 611.23,680.00 607.20,752.00 603.17,749.00 599.15,731.00 595.12,682.00 591.10,754.00 587.08,749.00 583.05,736.00 579.02,691.00 575.00,751.00 570.98,748.00 566.95,741.00 562.92,694.00 558.90,751.00 554.88,749.00 550.85,741.00 546.83,690.00 542.80,754.00 538.77,751.00 534.75,741.00 530.73,686.00 526.70,754.00 522.67,741.00 518.65,714.10 514.62,677.70 510.60,751.00 506.57,745.80 502.55,745.80 498.52,685.60 494.50,748.00 490.48,736.00 486.45,722.00 482.43,685.60 478.40,749.00 474.38,741.90 470.35,739.50 466.32,731.60 462.30,742.70 458.27,732.40 454.25,720.50 450.22,684.00" fill="#3594D6" fill-opacity="0.1" stroke="none"/>
<polygon points="450.22,670.60 454.25,740.40 458.27,725.30 462.30,738.80 466.32,717.30 470.35,734.80 474.38,739.60 478.40,749.10 482.43,689.60 486.45,696.80 490.48,717.40 494.50,738.00 498.52,682.50 502.55,719.00 506.57,728.50 510.60,738.00 514.62,673.00 518.65,698.40 522.67,725.30 526.70,753.80 530.73,681.70 534.75,722.10 538.77,738.00 542.80,745.10 546.83,680.10 550.85,717.40 554.88,738.00 558.90,744.30 562.92,671.40 566.95,709.50 570.98,736.40 575.00,742.70 579.02,665.00 583.05,715.80 587.08,745.90 591.10,755.40 595.12,665.00 599.15,707.90 603.17,738.00 607.20,756.20 611.23,665.80 615.25,701.50 619.27,746.70 623.30,746.70 627.33,662.70 631.35,701.50 635.38,734.80 639.40,749.90 643.42,665.80 647.45,701.50 651.48,733.20 655.50,757.00 659.52,667.40 663.55,709.50 667.58,738.00 671.60,752.30 675.62,664.20 679.65,709.50 683.67,748.30 687.70,752.50 691.73,663.50 695.75,704.50 699.77,737.50 703.80,744.60 707.83,664.40 711.85,706.30 715.88,739.30 719.90,749.10 723.92,668.90 727.95,727.70 731.98,740.20 736.00,753.50 740.03,669.80 744.05,713.40 748.08,742.00 752.10,756.20 756.12,663.50 760.15,709.90 764.17,747.30 768.20,760.70 768.20,771.70 764.17,758.30 760.15,720.90 756.12,682.50 752.10,767.20 748.08,753.00 744.05,724.40 740.03,688.80 736.00,764.50 731.98,751.20 727.95,738.70 723.92,687.90 719.90,760.10 715.88,750.30 711.85,717.30 707.83,683.40 703.80,755.60 699.77,748.50 695.75,715.50 691.73,682.50 687.70,763.50 683.67,759.30 679.65,720.50 675.62,683.20 671.60,763.30 667.58,749.00 663.55,720.50 659.52,686.40 655.50,768.00 651.48,744.20 647.45,712.50 643.42,684.80 639.40,760.90 635.38,745.80 631.35,712.50 627.33,681.70 623.30,757.70 619.27,757.70 615.25,712.50 611.23,684.80 607.20,767.20 603.17,749.00 599.15,718.90 595.12,684.00 591.10,766.40 587.08,756.90 583.05,726.80 579.02,684.00 575.00,753.70 570.98,747.40 566.95,720.50 562.92,690.40 558.90,755.30 554.88,749.00 550.85,728.40 546.83,699.10 542.80,756.10 538.77,749.00 534.75,733.10 530.73,700.70 526.70,764.80 522.67,736.30 518.65,709.40 514.62,692.00 510.60,749.00 506.57,739.50 502.55,730.00 498.52,701.50 494.50,749.00 490.48,728.40 486.45,707.80 482.43,708.60 478.40,760.10 474.38,750.60 470.35,745.80 466.32,736.30 462.30,749.80 458.27,736.30 454.25,751.40 450.22,689.60" fill="#5AA637" fill-opacity="0.1" stroke="none"/>
<polyline points="450.22,678.00 454.25,756.50 458.27,731.10 462.30,741.40 466.32,720.80 470.35,735.10 474.38,739.80 478.40,744.60 482.43,668.50 486.45,734.30 490.48,739.80 494.50,750.90 498.52,662.20 502.55,752.50 506.57,750.10 510.60,761.20 514.62,659.80 518.65,748.50 522.67,750.10 526.70,764.00 530.73,671.70 534.75,758.00 538.77,754.10 542.80,765.20 546.83,678.80 550.85,758.00 554.88,754.10 558.90,758.80 562.92,697.00 566.95,751.70 570.98,756.50 575.00,753.30 579.02,700.00 583.05,753.30 587.08,754.10 591.10,758.00 595.12,668.50 599.15,743.00 603.17,747.70 607.20,751.00 611.23,666.10 615.25,753.30 619.27,755.70 623.30,752.50 627.33,670.10 631.35,749.30 635.38,758.00 639.40,766.80 643.42,693.90 647.45,755.70 651.48,766.80 655.50,766.80 659.52,679.60 663.55,757.30 667.58,762.00 671.60,768.30 675.62,678.00 679.65,771.50 683.67,779.40 687.70,779.20 691.73,698.80 695.75,771.90 699.77,783.50 703.80,779.90 707.83,729.10 711.85,786.20 715.88,794.20 719.90,793.30 723.92,742.50 727.95,798.60 731.98,804.00 736.00,804.00 740.03,765.70 744.05,788.80 748.08,783.50 752.10,782.60 756.12,764.80 760.15,785.30 764.17,788.00 768.20,790.60" fill="none" stroke="#3594D6" stroke-width="1.9" stroke-linejoin="round" stroke-linecap="butt"/>
<polyline points="450.22,678.00 454.25,714.50 458.27,726.40 462.30,736.70 466.32,725.60 470.35,733.50 474.38,735.90 478.40,743.00 482.43,679.60 486.45,716.00 490.48,730.00 494.50,742.00 498.52,679.60 502.55,739.80 506.57,739.80 510.60,745.00 514.62,671.70 518.65,708.10 522.67,735.00 526.70,748.00 530.73,680.00 534.75,735.00 538.77,745.00 542.80,748.00 546.83,684.00 550.85,735.00 554.88,743.00 558.90,745.00 562.92,688.00 566.95,735.00 570.98,742.00 575.00,745.00 579.02,685.00 583.05,730.00 587.08,743.00 591.10,748.00 595.12,676.00 599.15,725.00 603.17,743.00 607.20,746.00 611.23,674.00 615.25,725.00 619.27,743.00 623.30,744.00 627.33,674.00 631.35,722.00 635.38,742.00 639.40,745.00 643.42,682.00 647.45,725.00 651.48,740.00 655.50,745.00 659.52,682.00 663.55,728.00 667.58,744.00 671.60,746.00 675.62,680.00 679.65,728.00 683.67,745.00 687.70,747.00 691.73,689.90 695.75,723.80 699.77,743.40 703.80,747.00 707.83,691.70 711.85,732.70 715.88,746.10 719.90,748.70 723.92,698.80 727.95,736.30 731.98,747.00 736.00,750.50 740.03,697.00 744.05,732.70 748.08,750.50 752.10,754.10 756.12,705.10 760.15,743.40 764.17,750.50 768.20,751.40" fill="none" stroke="#3594D6" stroke-width="1.9" stroke-linejoin="round" stroke-linecap="butt" stroke-dasharray="8,8" stroke-dashoffset="0"/>
<polyline points="450.22,683.60 454.25,745.40 458.27,730.30 462.30,743.80 466.32,730.30 470.35,739.80 474.38,744.60 478.40,754.10 482.43,702.60 486.45,701.80 490.48,722.40 494.50,743.00 498.52,695.50 502.55,724.00 506.57,733.50 510.60,743.00 514.62,686.00 518.65,703.40 522.67,730.30 526.70,758.80 530.73,694.70 534.75,727.10 538.77,743.00 542.80,750.10 546.83,693.10 550.85,722.40 554.88,743.00 558.90,749.30 562.92,684.40 566.95,714.50 570.98,741.40 575.00,747.70 579.02,678.00 583.05,720.80 587.08,750.90 591.10,760.40 595.12,678.00 599.15,712.90 603.17,743.00 607.20,761.20 611.23,678.80 615.25,706.50 619.27,751.70 623.30,751.70 627.33,675.70 631.35,706.50 635.38,739.80 639.40,754.90 643.42,678.80 647.45,706.50 651.48,738.20 655.50,762.00 659.52,680.40 663.55,714.50 667.58,743.00 671.60,757.30 675.62,677.20 679.65,714.50 683.67,753.30 687.70,757.50 691.73,676.50 695.75,709.50 699.77,742.50 703.80,749.60 707.83,677.40 711.85,711.30 715.88,744.30 719.90,754.10 723.92,681.90 727.95,732.70 731.98,745.20 736.00,758.50 740.03,682.80 744.05,718.40 748.08,747.00 752.10,761.20 756.12,676.50 760.15,714.90 764.17,752.30 768.20,765.70" fill="none" stroke="#5AA637" stroke-width="1.9" stroke-linejoin="round" stroke-linecap="butt"/>
<rect x="430.3" y="600.0" width="353.4" height="363.3" fill="none" stroke="#333333" stroke-width="1.2"/>
<line x1="429.7" x2="784.3" y1="600.0" y2="600.0" stroke="#333333" stroke-width="2"/>
<line x1="446.20" x2="446.20" y1="963.3" y2="969.3" stroke="#333333" stroke-width="1.4"/>
<text x="446.20" y="984.6" font-size="17.4" text-anchor="middle" fill="#111" >20</text>
<line x1="526.70" x2="526.70" y1="963.3" y2="969.3" stroke="#333333" stroke-width="1.4"/>
<text x="526.70" y="984.6" font-size="17.4" text-anchor="middle" fill="#111" >25</text>
<line x1="607.20" x2="607.20" y1="963.3" y2="969.3" stroke="#333333" stroke-width="1.4"/>
<text x="607.20" y="984.6" font-size="17.4" text-anchor="middle" fill="#111" >30</text>
<line x1="687.70" x2="687.70" y1="963.3" y2="969.3" stroke="#333333" stroke-width="1.4"/>
<text x="687.70" y="984.6" font-size="17.4" text-anchor="middle" fill="#111" >35</text>
<line x1="768.20" x2="768.20" y1="963.3" y2="969.3" stroke="#333333" stroke-width="1.4"/>
<text x="768.20" y="984.6" font-size="17.4" text-anchor="middle" fill="#111" >40</text>
<line x1="59.4" x2="65.4" y1="899.85" y2="899.85" stroke="#333333" stroke-width="1.4"/>
<text x="55.6" y="906.05" font-size="17.4" text-anchor="end" fill="#111" >-0.5</text>
<line x1="59.4" x2="65.4" y1="805.40" y2="805.40" stroke="#333333" stroke-width="1.4"/>
<text x="55.6" y="811.60" font-size="17.4" text-anchor="end" fill="#111" >0.0</text>
<line x1="59.4" x2="65.4" y1="710.95" y2="710.95" stroke="#333333" stroke-width="1.4"/>
<text x="55.6" y="717.15" font-size="17.4" text-anchor="end" fill="#111" >0.5</text>
<line x1="59.4" x2="65.4" y1="616.50" y2="616.50" stroke="#333333" stroke-width="1.4"/>
<text x="55.6" y="622.70" font-size="17.4" text-anchor="end" fill="#111" >1.0</text>
<text x="424.7" y="1007.8" font-size="21.2" text-anchor="middle" fill="#111" >Year</text>
<text x="0" y="0" font-size="21.2" text-anchor="middle" fill="#000" transform="translate(15.0,782) rotate(-90)">Accuracy</text>
</svg></body></html>
